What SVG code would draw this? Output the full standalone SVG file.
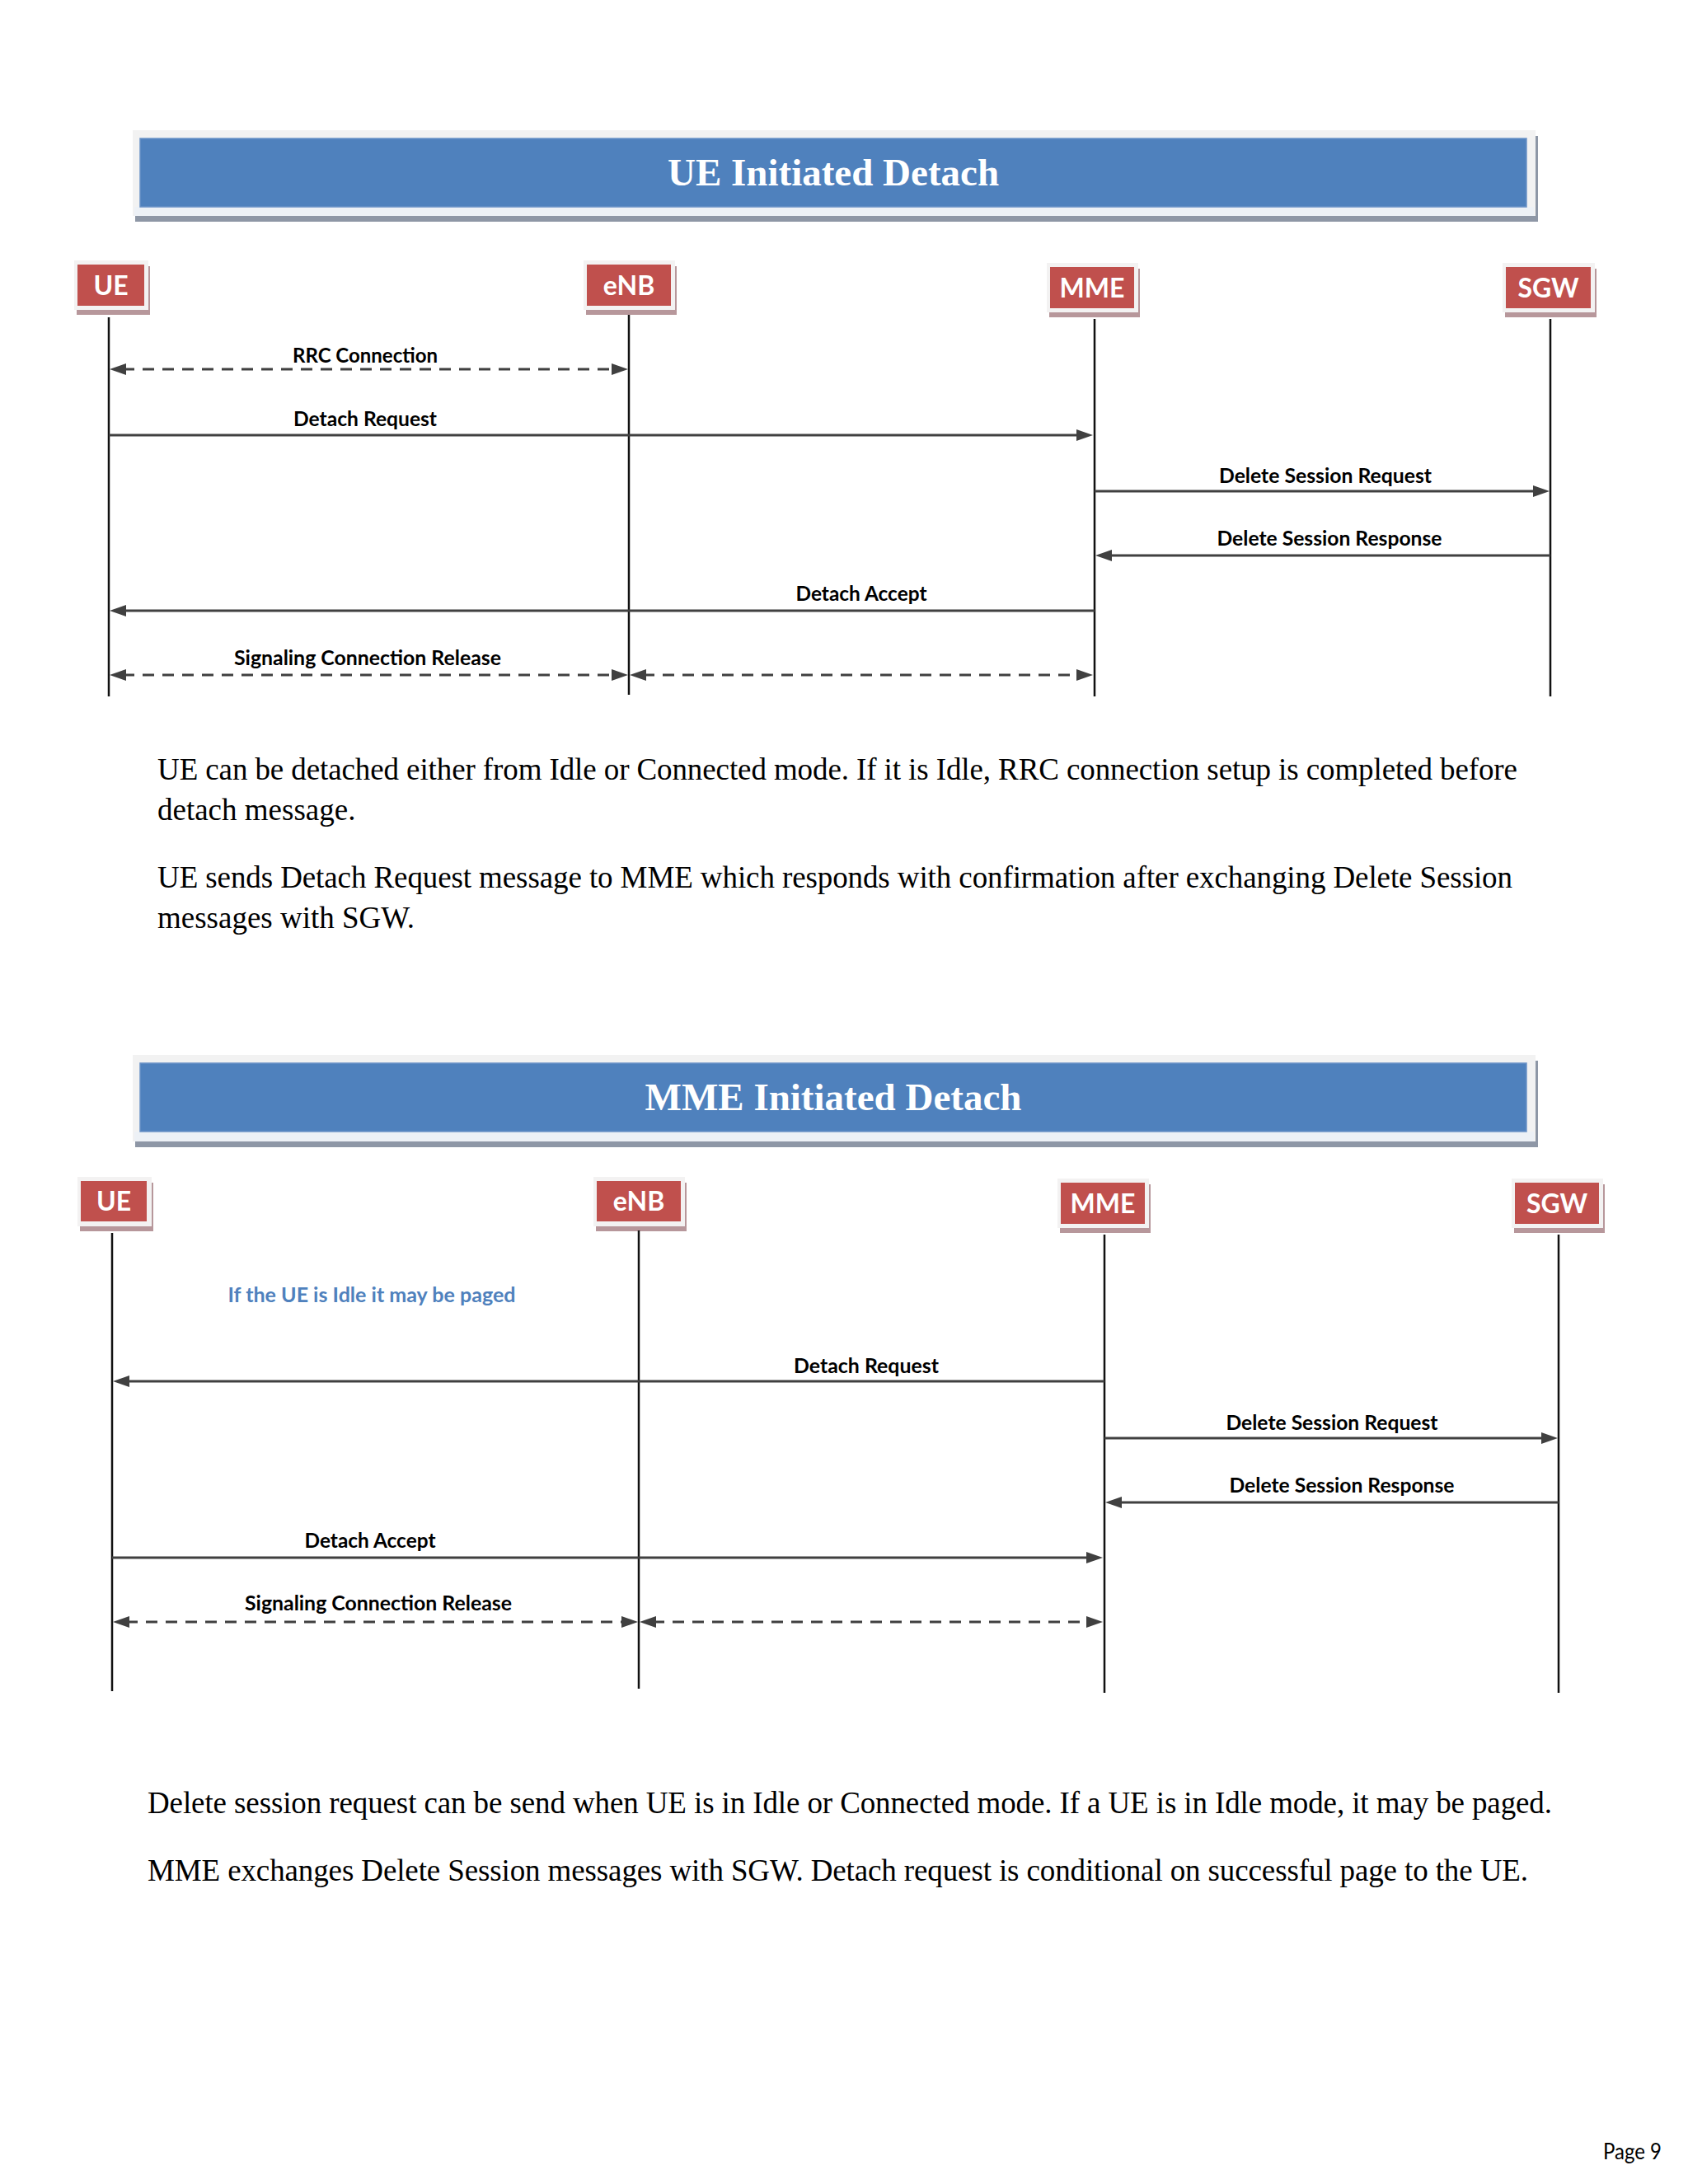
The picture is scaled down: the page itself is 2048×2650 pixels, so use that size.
<svg xmlns="http://www.w3.org/2000/svg" width="2048" height="2650" viewBox="0 0 2048 2650">
<defs>
<style>
.bg{fill:#ffffff}
.tframe{fill:#f2f2f2}
.tband{fill:#edf1f6}
.tshadow{fill:#8e97a6}
.tbar{fill:#4f81bd;stroke:#6b93c7;stroke-width:1.5}
.ttext{font-family:"Liberation Serif","Times New Roman",serif;font-weight:bold;font-size:47px;fill:#ffffff;text-anchor:middle}
.nshadow{fill:#b7979b}
.nframe{fill:#f3f2f2}
.nbox{fill:#c0504d}
.ntext{font-family:Lato,"Liberation Sans",sans-serif;font-weight:bold;font-size:32px;fill:#ffffff;text-anchor:middle}
.life{stroke:#111111;stroke-width:2.5;fill:none}
.msg{stroke:#404040;stroke-width:3;fill:none}
.dash{stroke-dasharray:14 10}
.lbl{font-family:Lato,"Liberation Sans",sans-serif;font-weight:bold;font-size:25px;fill:#000000;text-anchor:middle}
.note{font-family:Lato,"Liberation Sans",sans-serif;font-weight:bold;font-size:25px;fill:#4f81bd;text-anchor:middle}
.para{font-family:"Liberation Serif","Times New Roman",serif;font-size:37px;fill:#000000}
.foot{font-family:Lato,"Liberation Sans",sans-serif;font-size:26px;fill:#000000}
</style>
<marker id="arr" viewBox="0 0 20 14" markerWidth="20" markerHeight="14" refX="4" refY="7" orient="auto-start-reverse" markerUnits="userSpaceOnUse">
<path d="M0,0 L20,7 L0,14 Z" fill="#404040"/>
</marker>
</defs>
<rect class="bg" x="0" y="0" width="2048" height="2650"/>

<g id="title1">
<rect class="tshadow" x="164" y="165" width="1702" height="104"/>
<rect class="tframe" x="161" y="158" width="1702" height="104"/>
<rect class="tband" x="163" y="251" width="1698" height="11"/>
<rect class="tbar" x="170" y="168" width="1682" height="83"/>
<text class="ttext" x="1011" y="225">UE Initiated Detach</text>
</g>

<g id="s1-UE">
<rect class="nshadow" x="93" y="323" width="89" height="59"/>
<rect class="nframe" x="90" y="316" width="90" height="60"/>
<rect class="nbox" x="94" y="321" width="81" height="50"/>
<text class="ntext" x="134.5" y="358">UE</text>
</g>
<g id="s1-eNB">
<rect class="nshadow" x="711" y="323" width="110" height="59"/>
<rect class="nframe" x="708" y="316" width="111" height="60"/>
<rect class="nbox" x="712" y="321" width="102" height="50"/>
<text class="ntext" x="763" y="358">eNB</text>
</g>
<g id="s1-MME">
<rect class="nshadow" x="1273" y="326" width="110" height="59"/>
<rect class="nframe" x="1270" y="319" width="111" height="60"/>
<rect class="nbox" x="1274" y="324" width="102" height="50"/>
<text class="ntext" x="1325" y="361">MME</text>
</g>
<g id="s1-SGW">
<rect class="nshadow" x="1826" y="326" width="111" height="59"/>
<rect class="nframe" x="1823" y="319" width="112" height="60"/>
<rect class="nbox" x="1827" y="324" width="103" height="50"/>
<text class="ntext" x="1878.5" y="361">SGW</text>
</g>

<g id="s1-lifelines">
<line class="life" x1="132" y1="385" x2="132" y2="845"/>
<line class="life" x1="763" y1="382" x2="763" y2="843"/>
<line class="life" x1="1328" y1="387" x2="1328" y2="845"/>
<line class="life" x1="1881" y1="387" x2="1881" y2="845"/>
</g>

<g id="s1-connectors">
<line class="msg dash" x1="149" y1="448" x2="746" y2="448" marker-start="url(#arr)" marker-end="url(#arr)"/>
<line class="msg" x1="132" y1="528" x2="1310" y2="528" marker-end="url(#arr)"/>
<line class="msg" x1="1328" y1="596" x2="1864" y2="596" marker-end="url(#arr)"/>
<line class="msg" x1="1881" y1="674" x2="1345" y2="674" marker-end="url(#arr)"/>
<line class="msg" x1="1328" y1="741" x2="149" y2="741" marker-end="url(#arr)"/>
<line class="msg dash" x1="149" y1="819" x2="746" y2="819" marker-start="url(#arr)" marker-end="url(#arr)"/>
<line class="msg dash" x1="780" y1="819" x2="1310" y2="819" marker-start="url(#arr)" marker-end="url(#arr)"/>
<text class="lbl" x="443" y="440" textLength="176" lengthAdjust="spacingAndGlyphs">RRC Connection</text>
<text class="lbl" x="443" y="517" textLength="174" lengthAdjust="spacingAndGlyphs">Detach Request</text>
<text class="lbl" x="1608" y="586" textLength="258" lengthAdjust="spacingAndGlyphs">Delete Session Request</text>
<text class="lbl" x="1613" y="662" textLength="273" lengthAdjust="spacingAndGlyphs">Delete Session Response</text>
<text class="lbl" x="1045" y="729" textLength="159" lengthAdjust="spacingAndGlyphs">Detach Accept</text>
<text class="lbl" x="446" y="807" textLength="324" lengthAdjust="spacingAndGlyphs">Signaling Connection Release</text>
</g>

<g id="s1-text">
<text class="para" x="191" y="946" textLength="1650" lengthAdjust="spacing">UE can be detached either from Idle or Connected mode. If it is Idle, RRC connection setup is completed before</text>
<text class="para" x="191" y="995">detach message.</text>
<text class="para" x="191" y="1077" textLength="1644" lengthAdjust="spacing">UE sends Detach Request message to MME which responds with confirmation after exchanging Delete Session</text>
<text class="para" x="191" y="1126">messages with SGW.</text>
</g>

<g id="title2">
<rect class="tshadow" x="164" y="1287" width="1702" height="105"/>
<rect class="tframe" x="161" y="1280" width="1702" height="105"/>
<rect class="tband" x="163" y="1373" width="1698" height="12"/>
<rect class="tbar" x="170" y="1290" width="1682" height="83"/>
<text class="ttext" x="1011" y="1347">MME Initiated Detach</text>
</g>

<g id="s2-UE">
<rect class="nshadow" x="97" y="1435" width="89" height="59"/>
<rect class="nframe" x="94" y="1428" width="90" height="60"/>
<rect class="nbox" x="98" y="1433" width="80" height="49"/>
<text class="ntext" x="138" y="1469">UE</text>
</g>
<g id="s2-eNB">
<rect class="nshadow" x="723" y="1435" width="110" height="59"/>
<rect class="nframe" x="720" y="1428" width="111" height="60"/>
<rect class="nbox" x="724" y="1433" width="102" height="49"/>
<text class="ntext" x="775" y="1469">eNB</text>
</g>
<g id="s2-MME">
<rect class="nshadow" x="1286" y="1437" width="110" height="59"/>
<rect class="nframe" x="1283" y="1430" width="111" height="60"/>
<rect class="nbox" x="1287" y="1435" width="102" height="50"/>
<text class="ntext" x="1338" y="1472">MME</text>
</g>
<g id="s2-SGW">
<rect class="nshadow" x="1837" y="1437" width="110" height="59"/>
<rect class="nframe" x="1834" y="1430" width="111" height="60"/>
<rect class="nbox" x="1838" y="1435" width="102" height="50"/>
<text class="ntext" x="1889" y="1472">SGW</text>
</g>

<g id="s2-lifelines">
<line class="life" x1="136" y1="1496" x2="136" y2="2052"/>
<line class="life" x1="775" y1="1493" x2="775" y2="2049"/>
<line class="life" x1="1340" y1="1498" x2="1340" y2="2054"/>
<line class="life" x1="1891" y1="1498" x2="1891" y2="2054"/>
</g>

<g id="s2-connectors">
<text class="note" x="451" y="1580" textLength="349" lengthAdjust="spacingAndGlyphs">If the UE is Idle it may be paged</text>
<line class="msg" x1="1340" y1="1676" x2="153" y2="1676" marker-end="url(#arr)"/>
<line class="msg" x1="1340" y1="1745" x2="1874" y2="1745" marker-end="url(#arr)"/>
<line class="msg" x1="1891" y1="1823" x2="1357" y2="1823" marker-end="url(#arr)"/>
<line class="msg" x1="136" y1="1890" x2="1322" y2="1890" marker-end="url(#arr)"/>
<line class="msg dash" x1="153" y1="1968" x2="758" y2="1968" marker-start="url(#arr)" marker-end="url(#arr)"/>
<line class="msg dash" x1="792" y1="1968" x2="1322" y2="1968" marker-start="url(#arr)" marker-end="url(#arr)"/>
<text class="lbl" x="1051" y="1666" textLength="176" lengthAdjust="spacingAndGlyphs">Detach Request</text>
<text class="lbl" x="1616" y="1735" textLength="257" lengthAdjust="spacingAndGlyphs">Delete Session Request</text>
<text class="lbl" x="1628" y="1811" textLength="273" lengthAdjust="spacingAndGlyphs">Delete Session Response</text>
<text class="lbl" x="449" y="1878" textLength="159" lengthAdjust="spacingAndGlyphs">Detach Accept</text>
<text class="lbl" x="459" y="1954" textLength="324" lengthAdjust="spacingAndGlyphs">Signaling Connection Release</text>
</g>

<g id="s2-text">
<text class="para" x="179" y="2200" textLength="1704" lengthAdjust="spacing">Delete session request can be send when UE is in Idle or Connected mode. If a UE is in Idle mode, it may be paged.</text>
<text class="para" x="179" y="2282" textLength="1675" lengthAdjust="spacing">MME exchanges Delete Session messages with SGW. Detach request is conditional on successful page to the UE.</text>
</g>

<text class="foot" x="1945" y="2620" textLength="71" lengthAdjust="spacingAndGlyphs">Page 9</text>
</svg>
